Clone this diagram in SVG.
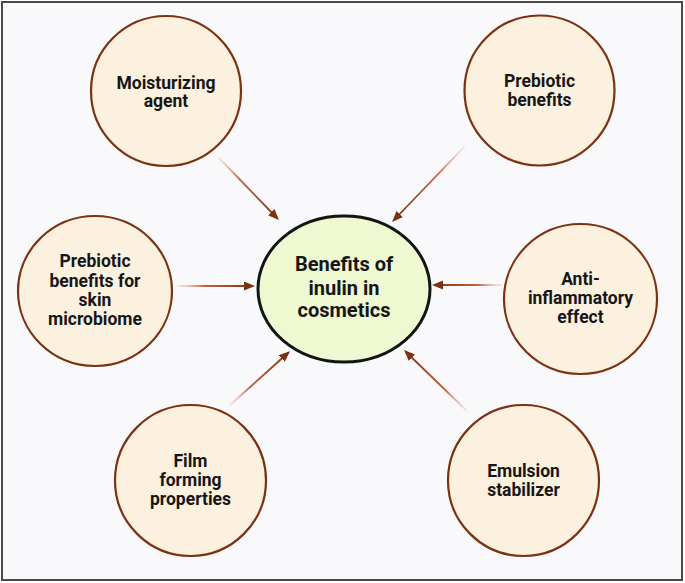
<svg xmlns="http://www.w3.org/2000/svg" width="685" height="583" viewBox="0 0 685 583">
<style>
.bg{fill:#f9f9fc;stroke:#4a4a4a;stroke-width:2}
.node{fill:#fcf0df;stroke:#7a3212;stroke-width:2.2}
.hub{fill:#eef9d2;stroke:#141414;stroke-width:3}
text{font-family:Roboto,"Liberation Sans",sans-serif;font-weight:bold;fill:#161616;text-anchor:middle}
.t{font-size:17.5px}
.h{font-size:20px}
.arr{stroke-width:1.8;fill:none;marker-end:url(#ah)}
</style>
<defs>
<marker id="ah" markerUnits="userSpaceOnUse" markerWidth="12" markerHeight="10" refX="9" refY="4.5" orient="auto">
<path d="M0,0 L11,4.5 L0,9 z" fill="#7a3212"/>
</marker>
<linearGradient id="g1" gradientUnits="userSpaceOnUse" x1="218" y1="157" x2="279" y2="220"><stop offset="0" stop-color="#f4c8d0" stop-opacity="0.4"/><stop offset="0.35" stop-color="#c4623c"/><stop offset="1" stop-color="#7a3212"/></linearGradient>
<linearGradient id="g2" gradientUnits="userSpaceOnUse" x1="465" y1="146" x2="392" y2="222"><stop offset="0" stop-color="#f4c8d0" stop-opacity="0.4"/><stop offset="0.35" stop-color="#c4623c"/><stop offset="1" stop-color="#7a3212"/></linearGradient>
<linearGradient id="g3" gradientUnits="userSpaceOnUse" x1="177" y1="286" x2="255" y2="286"><stop offset="0" stop-color="#f4c8d0" stop-opacity="0.4"/><stop offset="0.35" stop-color="#c4623c"/><stop offset="1" stop-color="#7a3212"/></linearGradient>
<linearGradient id="g4" gradientUnits="userSpaceOnUse" x1="502" y1="285" x2="432" y2="285"><stop offset="0" stop-color="#f4c8d0" stop-opacity="0.4"/><stop offset="0.35" stop-color="#c4623c"/><stop offset="1" stop-color="#7a3212"/></linearGradient>
<linearGradient id="g5" gradientUnits="userSpaceOnUse" x1="229" y1="406" x2="290" y2="351"><stop offset="0" stop-color="#f4c8d0" stop-opacity="0.4"/><stop offset="0.35" stop-color="#c4623c"/><stop offset="1" stop-color="#7a3212"/></linearGradient>
<linearGradient id="g6" gradientUnits="userSpaceOnUse" x1="467" y1="411" x2="404" y2="350"><stop offset="0" stop-color="#f4c8d0" stop-opacity="0.4"/><stop offset="0.35" stop-color="#c4623c"/><stop offset="1" stop-color="#7a3212"/></linearGradient>
</defs>
<rect class="bg" x="2" y="2" width="680" height="578"/>
<g id="connectors">
<line class="arr" stroke="url(#g1)" x1="218" y1="157" x2="277.5" y2="218.5"/>
<line class="arr" stroke="url(#g2)" x1="465" y1="146" x2="393.5" y2="220.5"/>
<line class="arr" stroke="url(#g3)" x1="177" y1="286" x2="253" y2="286"/>
<line class="arr" stroke="url(#g4)" x1="502" y1="285" x2="434" y2="285"/>
<line class="arr" stroke="url(#g5)" x1="229" y1="406" x2="288.5" y2="352.5"/>
<line class="arr" stroke="url(#g6)" x1="467" y1="411" x2="405.5" y2="351.5"/>
</g>
<g id="hub">
<ellipse class="hub" cx="344" cy="289" rx="86" ry="73"/>
<text class="h" x="344" y="271">Benefits of</text>
<text class="h" x="344" y="295">inulin in</text>
<text class="h" x="344" y="317">cosmetics</text>
</g>
<g id="moisturizing">
<circle class="node" cx="166" cy="91" r="75"/>
<text class="t" x="166" y="88.5">Moisturizing</text>
<text class="t" x="166" y="107">agent</text>
</g>
<g id="prebiotic">
<circle class="node" cx="539.5" cy="90.5" r="75"/>
<text class="t" x="539.5" y="87">Prebiotic</text>
<text class="t" x="539.5" y="106">benefits</text>
</g>
<g id="skin">
<ellipse class="node" cx="95" cy="291" rx="77" ry="75"/>
<text class="t" x="95" y="267">Prebiotic</text>
<text class="t" x="95" y="287">benefits for</text>
<text class="t" x="95" y="306">skin</text>
<text class="t" x="95" y="325">microbiome</text>
</g>
<g id="antiinflammatory">
<ellipse class="node" cx="580.5" cy="299" rx="76.5" ry="75"/>
<text class="t" x="580.5" y="285">Anti-</text>
<text class="t" x="580.5" y="304">inflammatory</text>
<text class="t" x="580.5" y="323">effect</text>
</g>
<g id="film">
<circle class="node" cx="190.5" cy="480.5" r="75.5"/>
<text class="t" x="190.5" y="467">Film</text>
<text class="t" x="190.5" y="486">forming</text>
<text class="t" x="190.5" y="505">properties</text>
</g>
<g id="emulsion">
<circle class="node" cx="523.5" cy="480.5" r="75.5"/>
<text class="t" x="523.5" y="477">Emulsion</text>
<text class="t" x="523.5" y="496">stabilizer</text>
</g>
</svg>
